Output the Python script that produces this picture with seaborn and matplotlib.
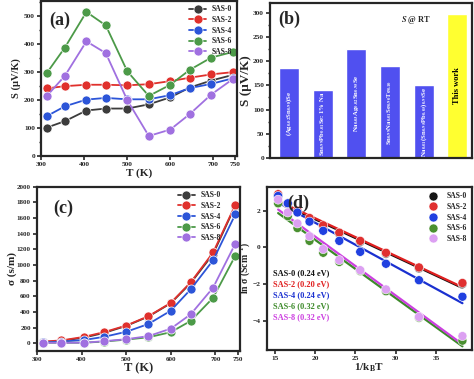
import numpy as np
import pandas as pd
import matplotlib
matplotlib.use("Agg")
import matplotlib.pyplot as plt
from matplotlib.ticker import AutoMinorLocator
import seaborn as sns

# ---- data ----
samples = ["SAS-0", "SAS-2", "SAS-4", "SAS-6", "SAS-8"]
temps = [313, 355, 405, 450, 500, 550, 600, 645, 695, 745]

seebeck = {
    "SAS-0": [102, 125, 163, 170, 170, 185, 210, 245, 270, 290],
    "SAS-2": [242, 250, 255, 255, 253, 257, 268, 280, 292, 300],
    "SAS-4": [143, 178, 202, 208, 203, 203, 218, 243, 258, 278],
    "SAS-6": [297, 388, 515, 467, 303, 215, 255, 308, 352, 372],
    "SAS-8": [215, 287, 410, 368, 200, 72, 95, 150, 220, 275],
}

sigma = {
    "SAS-0": [10, 30, 70, 130, 220, 340, 510, 770, 1140, 1760],
    "SAS-2": [20, 35, 80, 140, 225, 345, 515, 780, 1160, 1770],
    "SAS-4": [10, 20, 40, 80, 145, 245, 415, 690, 1060, 1650],
    "SAS-6": [5, 5, 5, 20, 45, 75, 140, 285, 580, 1120],
    "SAS-8": [5, 5, 5, 25, 50, 90, 185, 370, 710, 1275],
}

inv_kt = [38.3, 32.9, 28.8, 25.6, 23.0, 21.0, 19.3, 17.8, 16.6, 15.4]
ln_sigma = {
    "SAS-0": [-2.0, -1.15, -0.35, 0.3, 0.75, 1.15, 1.55, 1.95, 2.35, 2.8],
    "SAS-2": [-1.95, -1.1, -0.3, 0.35, 0.8, 1.2, 1.6, 2.0, 2.4, 2.9],
    "SAS-4": [-2.7, -1.8, -0.9, -0.25, 0.35, 0.9, 1.4, 1.9, 2.4, 2.8],
    "SAS-6": [-5.1, -3.85, -2.4, -1.3, -0.8, -0.3, 0.35, 1.05, 1.7, 2.4],
    "SAS-8": [-4.85, -3.8, -2.3, -1.25, -0.7, -0.1, 0.6, 1.3, 1.9, 2.6],
}
ea_text = ["SAS-0 (0.24 eV)", "SAS-2 (0.20 eV)", "SAS-4 (0.24 eV)",
           "SAS-6 (0.32 eV)", "SAS-8 (0.32 eV)"]

bar_labels = [r"(Ag$_{0.02}$Sn$_{0.98}$)Se",
              r"Sn$_{0.99}$Pb$_{0.01}$Se: 1% Na",
              r"Na$_{0.03}$Ag$_{0.02}$Sn$_{0.95}$Se",
              r"Sn$_{0.99}$Na$_{0.01}$Se$_{0.90}$Te$_{0.10}$",
              r"Na$_{0.01}$(Sn$_{0.95}$Pb$_{0.05}$)$_{0.99}$Se",
              "This work"]
bar_values = [185, 140, 225, 190, 150, 297]

colors = {"SAS-0": "#3c3c3c", "SAS-2": "#e0302c", "SAS-4": "#2c55d8",
          "SAS-6": "#4c9a48", "SAS-8": "#a070e0"}
line_d = {"SAS-0": "#111111", "SAS-2": "#e02020", "SAS-4": "#1a30d0",
          "SAS-6": "#3d8a2a", "SAS-8": "#cc40e0"}
point_d = {"SAS-0": "#151515", "SAS-2": "#e03030", "SAS-4": "#2040e0",
           "SAS-6": "#4a9030", "SAS-8": "#dca0f2"}

sns.set_style("ticks")
plt.rcParams["font.family"] = ["Liberation Serif", "DejaVu Serif"]
plt.rcParams["mathtext.fontset"] = "stix"
plt.rcParams["font.weight"] = "bold"
plt.rcParams["axes.linewidth"] = 1.6

fig = plt.figure(figsize=(4.74, 3.79), dpi=100)
ax_a = fig.add_axes([0.087, 0.588, 0.413, 0.41])
ax_b = fig.add_axes([0.570, 0.583, 0.426, 0.409])
ax_c = fig.add_axes([0.078, 0.074, 0.428, 0.433])
ax_d = fig.add_axes([0.563, 0.077, 0.433, 0.430])


def style(ax, fs=5.3):
    ax.tick_params(labelsize=fs, width=1.2, length=3, direction="out", pad=1.5)
    ax.tick_params(which="minor", width=1.0, length=1.8)
    for lab in ax.get_xticklabels() + ax.get_yticklabels():
        lab.set_fontweight("bold")


def long_df(d, x):
    rows = []
    for s in samples:
        for xi, yi in zip(x, d[s]):
            rows.append({"x": xi, "y": yi, "sample": s})
    return pd.DataFrame(rows)


leg_kw = dict(frameon=False, handlelength=2.2, borderaxespad=0.2,
              labelspacing=0.35, prop={"weight": "bold", "size": 5.5})

# ---- (a) Seebeck ----
df_a = long_df(seebeck, temps)
sns.lineplot(data=df_a, x="x", y="y", hue="sample", palette=colors, marker="o",
             markersize=6.5, markeredgecolor="white", markeredgewidth=0.5,
             linewidth=1.3, ax=ax_a)
ax_a.set_xlim(300, 755)
ax_a.set_ylim(0, 555)
ax_a.set_xticks([300, 400, 500, 600, 700, 750])
ax_a.set_yticks([0, 100, 200, 300, 400, 500])
ax_a.yaxis.set_minor_locator(AutoMinorLocator(2))
ax_a.set_xlabel("T (K)", fontsize=8, fontweight="bold", labelpad=1)
ax_a.set_ylabel("S (μV/K)", fontsize=7.5, fontweight="bold", labelpad=2)
ax_a.text(0.04, 0.93, "(a)", transform=ax_a.transAxes, fontsize=13,
          fontweight="bold", va="top")
ax_a.legend(loc="upper right", **leg_kw)
style(ax_a)

# ---- (b) bars ----
df_b = pd.DataFrame({"label": bar_labels, "S": bar_values})
bar_cols = ["#5050f0"] * 5 + ["#ffff30"]
sns.barplot(data=df_b, x="label", y="S", hue="label", palette=bar_cols,
            legend=False, width=0.6, ax=ax_b, saturation=1)
for i, (lab, v) in enumerate(zip(bar_labels, bar_values)):
    mine = lab == "This work"
    ax_b.text(i, 150 if mine else v / 2, lab, rotation=90,
              ha="center", va="center", color="black" if mine else "white",
              fontsize=6 if mine else 4.8, fontweight="bold")
ax_b.set_xticks([])
ax_b.set_xlabel("")
ax_b.set_xlim(-0.56, 5.44)
ax_b.set_ylim(0, 320)
ax_b.set_yticks([0, 50, 100, 150, 200, 250, 300])
ax_b.yaxis.set_minor_locator(AutoMinorLocator(2))
ax_b.set_ylabel("S (μV/K)", fontsize=9.5, fontweight="bold", labelpad=1)
ax_b.text(0.04, 0.95, "(b)", transform=ax_b.transAxes, fontsize=13,
          fontweight="bold", va="top")
ax_b.text(0.72, 0.93, r"$\mathit{S}$ @ RT", transform=ax_b.transAxes,
          fontsize=6, fontweight="bold", ha="center", va="top")
style(ax_b)

# ---- (c) conductivity ----
df_c = long_df(sigma, temps)
sns.lineplot(data=df_c, x="x", y="y", hue="sample", palette=colors, marker="o",
             markersize=6.5, markeredgecolor="white", markeredgewidth=0.5,
             linewidth=1.3, ax=ax_c)
ax_c.set_xlim(300, 755)
ax_c.set_ylim(-100, 2000)
ax_c.set_xticks([300, 400, 500, 600, 700, 750])
ax_c.set_yticks(np.arange(0, 2001, 200))
ax_c.set_xlabel("T (K)", fontsize=9, fontweight="bold", labelpad=0)
ax_c.set_ylabel("σ (s/m)", fontsize=8, fontweight="bold", labelpad=0)
ax_c.text(0.08, 0.92, "(c)", transform=ax_c.transAxes, fontsize=13,
          fontweight="bold", va="top")
ax_c.legend(loc="upper right", bbox_to_anchor=(0.93, 1.0), **leg_kw)
style(ax_c, fs=5)

# ---- (d) Arrhenius ----
df_d = long_df(ln_sigma, inv_kt)
for s in samples:
    sub = df_d[df_d["sample"] == s]
    sns.regplot(data=sub, x="x", y="y", scatter=False, ci=None, ax=ax_d,
                line_kws={"color": line_d[s], "linewidth": 1.6})
sns.scatterplot(data=df_d, x="x", y="y", hue="sample", palette=point_d, s=42,
                edgecolor="white", linewidth=0.4, ax=ax_d, zorder=3)
ax_d.set_xlim(14, 39.5)
ax_d.set_ylim(-5.6, 3.3)
ax_d.set_xticks([15, 20, 25, 30, 35])
ax_d.set_yticks([-4, -2, 0, 2])
ax_d.set_xlabel(r"1/k$_\mathregular{B}$T", fontsize=8, fontweight="bold", labelpad=0)
ax_d.set_ylabel(r"ln σ (Scm$^{\mathregular{-1}}$)", fontsize=7, fontweight="bold", labelpad=0)
ax_d.text(0.1, 0.95, "(d)", transform=ax_d.transAxes, fontsize=13,
          fontweight="bold", va="top")
ax_d.legend(loc="upper right", frameon=False, handletextpad=0.8,
            borderaxespad=0.3, labelspacing=0.35, prop={"weight": "bold", "size": 5.5})
for i, (s, t) in enumerate(zip(samples, ea_text)):
    ax_d.text(0.03, 0.47 - i * 0.068, t, transform=ax_d.transAxes, color=line_d[s],
              fontsize=6, fontweight="bold", va="center")
style(ax_d)

fig.savefig("out.png", dpi=100)
